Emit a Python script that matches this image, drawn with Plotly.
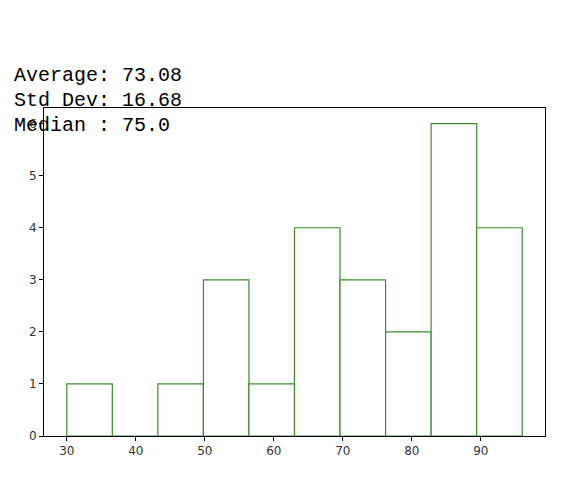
import plotly.graph_objects as go

bin_edges = [30, 36.6, 43.2, 49.8, 56.4, 63.0, 69.6, 76.2, 82.8, 89.4, 96.0]
counts = [1, 0, 1, 3, 1, 4, 3, 2, 6, 4]
stats_lines = ["Average: 73.08", "Std Dev: 16.68", "Median : 75.0"]

centers = [(a + b) / 2 for a, b in zip(bin_edges[:-1], bin_edges[1:])]
widths = [b - a for a, b in zip(bin_edges[:-1], bin_edges[1:])]

fig = go.Figure(go.Bar(
    x=centers, y=counts, width=widths,
    marker=dict(color="white", line=dict(color="#3a8a2a", width=1.2)),
))

# plot area (in page coords) spans x 44..545, y 108..436; page has 8px body margin
for i, t in enumerate(stats_lines):
    fig.add_annotation(text=t, xref="paper", yref="paper",
                       x=(4 - 36) / 501, y=(370 - 9 + 25 * i * -1 + 0) / 328 + 0.0,
                       xanchor="left", yanchor="middle", showarrow=False,
                       font=dict(family="Liberation Mono", size=20, color="black"))

axis_common = dict(showline=True, linecolor="black", linewidth=1, mirror=True,
                   showgrid=False, zeroline=False, ticks="outside", ticklen=4,
                   tickcolor="black", tickfont=dict(family="DejaVu Sans", size=12, color="#333"))
fig.update_xaxes(range=[26.7, 99.3], tickvals=[30, 40, 50, 60, 70, 80, 90], **axis_common)
fig.update_yaxes(range=[0, 6.3], tickvals=[0, 1, 2, 3, 4, 5, 6], **axis_common)
fig.update_layout(width=564, height=478, margin=dict(l=36, r=27, t=100, b=50),
                  plot_bgcolor="white", paper_bgcolor="white", showlegend=False)
fig.write_html("out.html")
